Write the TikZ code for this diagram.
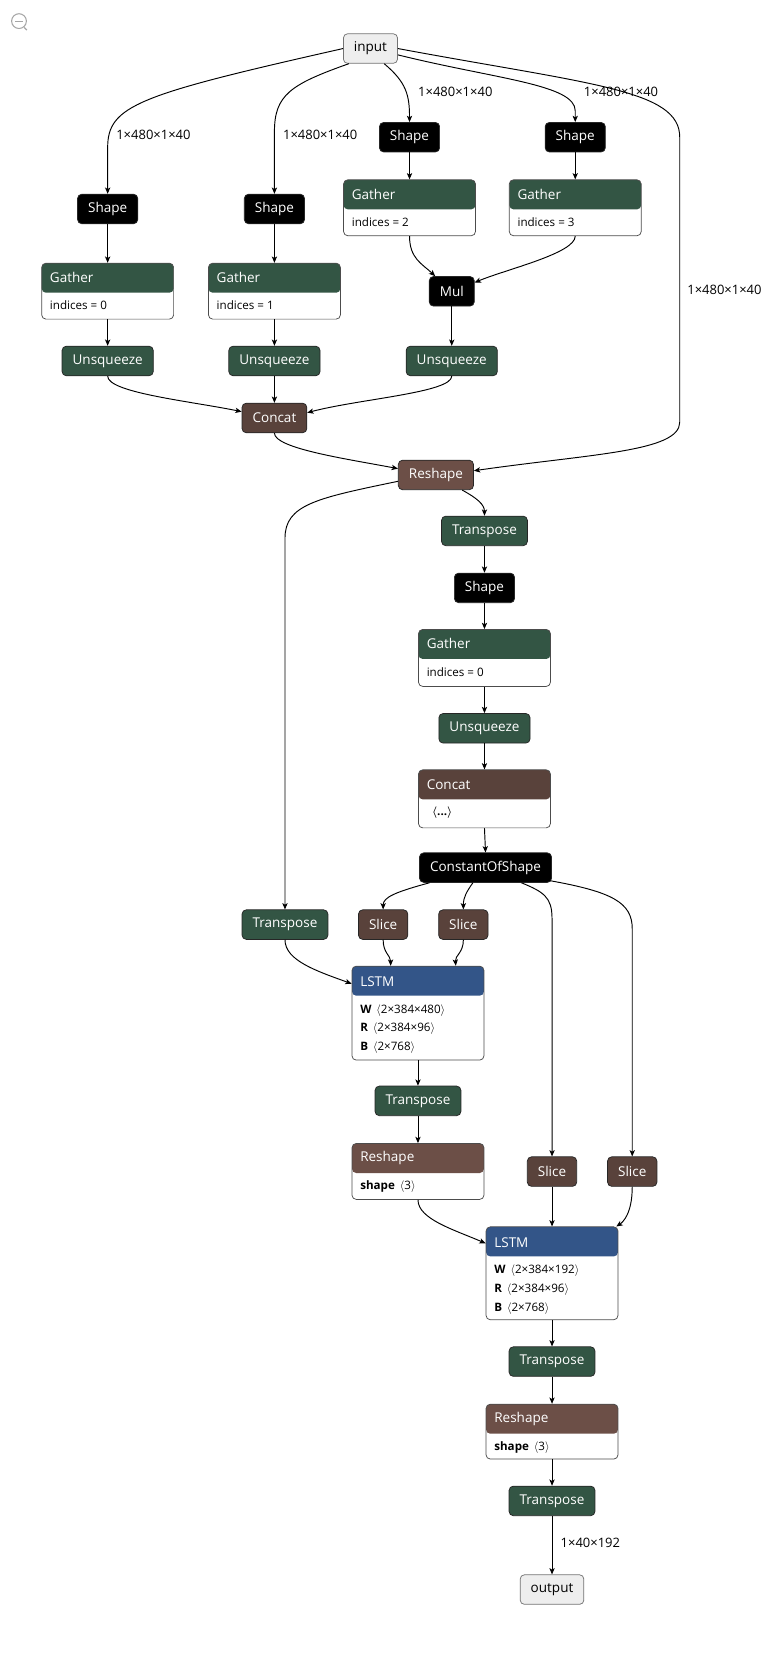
\documentclass[tikz,border=0pt]{standalone}
\usepackage{amsmath}
\usepackage{fontspec}
\setmainfont{Open Sans}
\usetikzlibrary{arrows.meta}

\definecolor{xform}{RGB}{51,85,68}
\definecolor{tensorc}{RGB}{89,66,59}
\definecolor{shapec}{RGB}{108,79,71}
\definecolor{layerc}{RGB}{51,85,136}
\definecolor{ioc}{RGB}{238,238,238}

\tikzset{
  op/.style={draw=black!85, rounded corners=4pt, text=white, minimum height=28pt,
    inner xsep=10pt, inner ysep=0pt, line width=0.7pt, font=\fontsize{12.8}{14}\selectfont},
  blk/.style={op, fill=black},
  grn/.style={op, fill=xform},
  brn/.style={op, fill=tensorc},
  rsh/.style={op, fill=shapec},
  io/.style={op, fill=ioc, text=black, draw=black!55},
  card/.style={draw=black!70, rounded corners=4pt, fill=white, minimum width=125pt,
    inner sep=0pt, anchor=north, line width=0.7pt,
    path picture={\fill[#1] (path picture bounding box.north west) rectangle
      ([yshift=-28pt]path picture bounding box.north east);}},
  ttl/.style={anchor=west, text=white, inner sep=0pt, font=\fontsize{12.8}{14}\selectfont},
  attr/.style={anchor=west, inner sep=0pt, font=\fontsize{11}{13}\selectfont},
  lbl/.style={anchor=west, inner sep=0pt, font=\fontsize{12.3}{14}\selectfont},
  arr/.style={-{Stealth[length=6pt,width=5pt,inset=1.5pt]}, line width=0.9pt},
}

\begin{document}
\begin{tikzpicture}[x=1pt,y=-1pt]
	\useasboundingbox (0,0) rectangle (742,1568);
	% zoom button
	\draw[gray!70, line width=1pt] (18,20) circle (7);
	\draw[gray!70, line width=1pt] (14.5,20) -- (21.5,20);
	\draw[gray!70, line width=1.2pt] (23,26) -- (25.5,28.5);

	\node[io] (input) at (351,46) {input};

	\foreach \n/\x/\y in {1/102/198, 2/260/198, 3/388/130, 4/545/130}
	  {
	      \node[blk] (shp\n) at (\x,\y) {Shape};
	  }
	\foreach \n/\x/\y/\i in {1/102/249/0, 2/260/249/1, 3/388/170/2, 4/545/170/3}
	  {
	      \node[card=xform, minimum height=53pt] (gat\n) at (\x,\y) {};
	      \node[ttl] (gat\n t) at ([xshift=8pt,yshift=-14pt]gat\n.north west) {Gather};
	      \node[attr] (gat\n a) at ([xshift=8pt,yshift=-40pt]gat\n.north west) {indices = \i};
	  }
	\node[blk] (mul) at (428,276) {Mul};
	\foreach \n/\x in {1/102, 2/260, 3/428}
	  {
	      \node[grn] (unsq\n) at (\x,342) {Unsqueeze};
	  }
	\node[brn] (cat1) at (260,396) {Concat};
	\node[rsh] (rsh1) at (413,450) {Reshape};
	\node[grn] (tr1) at (459,503) {Transpose};
	\node[blk] (shp5) at (459,557) {Shape};
	\node[card=xform, minimum height=54pt] (gat5) at (459,596) {};
	\node[ttl] (gat5t) at ([xshift=8pt,yshift=-14pt]gat5.north west) {Gather};
	\node[attr] (gat5a) at ([xshift=8pt,yshift=-41pt]gat5.north west) {indices = 0};
	\node[grn] (unsq4) at (459,690) {Unsqueeze};
	\node[card=tensorc, minimum height=55pt] (cat2) at (459,729) {};
	\node[ttl] (cat2t) at ([xshift=8pt,yshift=-14pt]cat2.north west) {Concat};
	\node[attr] (cat2a) at ([xshift=13pt,yshift=-41pt]cat2.north west) {\bfseries$\boldsymbol{\langle}$...$\boldsymbol{\rangle}$};
	\node[blk] (cos) at (460,822) {ConstantOfShape};

	\node[grn] (trL) at (270,876) {Transpose};
	\node[brn] (slc1) at (363,876) {Slice};
	\node[brn] (slc2) at (439,876) {Slice};
	\node[card=layerc, minimum height=89pt] (lstm1) at (396,915) {};
	\node[ttl] (lstm1t) at ([xshift=8pt,yshift=-15pt]lstm1.north west) {LSTM};
	\node[attr] (lstm1w) at ([xshift=8pt,yshift=-42pt]lstm1.north west) {{\bfseries W}\ \,$\langle$2×384×480$\rangle$};
	\node[attr] (lstm1r) at ([xshift=8pt,yshift=-60pt]lstm1.north west) {{\bfseries R}\ \,$\langle$2×384×96$\rangle$};
	\node[attr] (lstm1b) at ([xshift=8pt,yshift=-78pt]lstm1.north west) {{\bfseries B}\ \,$\langle$2×768$\rangle$};
	\node[grn] (tr2) at (396,1043) {Transpose};
	\node[card=shapec, minimum height=53pt] (rsh2) at (396,1083) {};
	\node[ttl] (rsh2t) at ([xshift=8pt,yshift=-14pt]rsh2.north west) {Reshape};
	\node[attr] (rsh2a) at ([xshift=8pt,yshift=-41pt]rsh2.north west) {{\bfseries shape}\ \,$\langle$3$\rangle$};
	\node[brn] (slc3) at (523,1110) {Slice};
	\node[brn] (slc4) at (599,1110) {Slice};

	\node[card=layerc, minimum height=88pt] (lstm2) at (523,1162) {};
	\node[ttl] (lstm2t) at ([xshift=8pt,yshift=-15pt]lstm2.north west) {LSTM};
	\node[attr] (lstm2w) at ([xshift=8pt,yshift=-42pt]lstm2.north west) {{\bfseries W}\ \,$\langle$2×384×192$\rangle$};
	\node[attr] (lstm2r) at ([xshift=8pt,yshift=-60pt]lstm2.north west) {{\bfseries R}\ \,$\langle$2×384×96$\rangle$};
	\node[attr] (lstm2b) at ([xshift=8pt,yshift=-78pt]lstm2.north west) {{\bfseries B}\ \,$\langle$2×768$\rangle$};
	\node[grn] (tr3) at (523,1290) {Transpose};
	\node[card=shapec, minimum height=52pt] (rsh3) at (523,1330) {};
	\node[ttl] (rsh3t) at ([xshift=8pt,yshift=-14pt]rsh3.north west) {Reshape};
	\node[attr] (rsh3a) at ([xshift=8pt,yshift=-41pt]rsh3.north west) {{\bfseries shape}\ \,$\langle$3$\rangle$};
	\node[grn] (tr4) at (523,1422) {Transpose};
	\node[io] (output) at (523,1506) {output};

	% edges out of input
	\draw[arr] (input.west) .. controls (130,90) and (102,100) .. (102,140) -- (shp1.north);
	\draw[arr] (input.215) .. controls (275,80) and (260,90) .. (260,125) -- (shp2.north);
	\draw[arr] ([xshift=13pt]input.south) .. controls (385,78) and (388,90) .. (shp3.north);
	\draw[arr] ([yshift=-6pt]input.east) .. controls (470,75) and (545,80) .. (545,105) -- (shp4.north);
	\draw[arr] (input.east) .. controls (560,80) and (644,85) .. (644,130) -- (644,400)
	    .. controls (644,428) and (560,430) .. ([yshift=4pt]rsh1.east);
	\node[lbl] (e1) at (110,128) {1×480×1×40};
	\node[lbl] (e2) at (268,128) {1×480×1×40};
	\node[lbl] (e3) at (396,87) {1×480×1×40};
	\node[lbl] (e4) at (553,87) {1×480×1×40};
	\node[lbl] (e5) at (651,275) {1×480×1×40};

	\foreach \n in {1,2,3,4}
	  \draw[arr] (shp\n.south) -- (gat\n.north);
	\draw[arr] (gat3.south) .. controls (388,245) and (400,250) .. ([xshift=6pt]mul.north west);
	\draw[arr] (gat4.south) .. controls (545,240) and (480,255) .. ([yshift=-6pt]mul.north east);
	\draw[arr] (gat1.south) -- (unsq1.north);
	\draw[arr] (gat2.south) -- (unsq2.north);
	\draw[arr] (mul.south) -- (unsq3.north);
	\draw[arr] (unsq1.south) .. controls (102,372) and (180,380) .. ([yshift=6pt]cat1.west);
	\draw[arr] (unsq2.south) -- (cat1.north);
	\draw[arr] (unsq3.south) .. controls (428,372) and (340,378) .. ([yshift=5pt]cat1.east);
	\draw[arr] (cat1.south) .. controls (260,425) and (330,435) .. ([yshift=6pt]rsh1.west);
	\draw[arr] ([yshift=-6pt]rsh1.west) .. controls (300,472) and (270,478) .. (270,510) -- (trL.north);
	\draw[arr] ([xshift=-11pt]rsh1.south east) .. controls (452,472) and (459,478) .. (tr1.north);

	\foreach \a/\b in {tr1/shp5, shp5/gat5, gat5/unsq4, unsq4/cat2, cat2/cos}
	  \draw[arr] (\a.south) -- (\b.north);

	\draw[arr] ([xshift=-53pt]cos.south) .. controls (375,845) and (363,850) .. (slc1.north);
	\draw[arr] ([xshift=-12pt]cos.south) .. controls (442,845) and (439,850) .. (slc2.north);
	\draw[arr] ([xshift=34pt]cos.south) .. controls (515,845) and (523,850) .. (523,870) -- (slc3.north);
	\draw[arr] ([xshift=-2pt,yshift=2pt]cos.south east) .. controls (580,845) and (599,855) .. (599,880) -- (slc4.north);

	\draw[arr] (trL.south) .. controls (270,910) and (300,920) .. ([yshift=-17pt]lstm1.north west);
	\draw[arr] (slc1.south) .. controls (363,903) and (370,905) .. ([xshift=37pt]lstm1.north west);
	\draw[arr] (slc2.south) .. controls (439,903) and (431,905) .. ([xshift=-27pt]lstm1.north east);
	\draw[arr] (lstm1.south) -- (tr2.north);
	\draw[arr] (tr2.south) -- (rsh2.north);

	\draw[arr] (rsh2.south) .. controls (396,1155) and (430,1165) .. ([yshift=-16pt]lstm2.north west);
	\draw[arr] (slc3.south) -- (lstm2.north);
	\draw[arr] (slc4.south) .. controls (599,1150) and (590,1158) .. ([xshift=-2pt]lstm2.north east);

	\foreach \a/\b in {lstm2/tr3, tr3/rsh3, rsh3/tr4, tr4/output}
	  \draw[arr] (\a.south) -- (\b.north);
	\node[lbl] (e6) at (531,1462) {1×40×192};
\end{tikzpicture}
\end{document}
